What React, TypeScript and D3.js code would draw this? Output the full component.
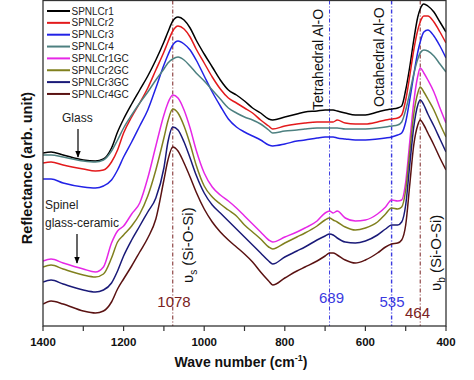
import React from "react";
import * as d3 from "d3";

const wavenumbers = [1400,1380,1350,1300,1270,1250,1230,1215,1200,1180,1160,1140,1120,1100,1090,1078,1065,1050,1035,1020,1000,980,960,940,920,900,880,860,840,830,800,770,750,720,700,689,680,670,650,625,600,570,550,535,520,510,500,490,480,470,464,455,445,430,415,400];

const spnlcr1 = [173,174,171,166,165,167,178,194,207,222,236,250,266,284,294,305,309,306,298,286,272,259,246,236,231,225,218,213,207,206,209,212,214,215,216,216,216,215,213,211,211,214,216,217,218,220,236,259,286,309,317,322,320,314,304,294];
const spnlcr2 = [163,164,161,157,155,156,164,176,193,209,223,238,256,274,284,295,300,297,289,277,263,249,237,228,223,218,213,206,200,197,200,202,203,204,204,204,204,206,203,202,202,204,206,207,208,211,226,250,276,296,304,310,310,304,294,283];
const spnlcr3 = [147,147,143,139,138,140,146,156,169,184,200,216,238,261,271,281,285,282,276,266,250,234,220,207,199,194,190,186,181,180,182,185,186,188,189,189,189,188,187,186,186,187,188,189,191,193,204,226,251,274,284,294,296,290,280,268];
const spnlcr4 = [171,171,169,165,164,166,175,186,198,211,223,234,246,257,263,267,269,266,260,253,245,236,227,218,213,209,206,202,196,193,195,196,197,198,198,198,198,198,197,197,197,198,199,200,201,204,216,233,252,267,273,276,275,270,262,254];
const spnlcr1gc = [65,67,63,57,54,59,83,95,100,112,123,148,180,211,223,231,228,216,198,176,153,139,131,125,118,110,102,94,86,84,89,94,98,105,113,115,113,115,108,105,106,112,119,126,125,126,144,184,224,250,258,253,246,234,218,203];
const spnlcr2gc = [59,61,57,51,49,52,68,84,91,100,112,130,156,188,205,217,213,200,182,161,140,129,122,116,110,101,94,87,79,77,83,89,93,100,106,108,106,104,99,96,98,104,112,118,117,119,136,174,212,233,239,234,227,216,202,189];
const spnlcr3gc = [44,46,42,36,34,36,43,55,70,86,100,114,128,158,184,199,196,184,168,151,133,121,113,105,97,89,81,73,65,62,69,75,79,86,90,92,91,88,84,83,85,91,97,101,101,104,121,161,199,221,226,221,212,200,187,174];
const spnlcr4gc = [22,25,22,15,13,15,24,37,47,60,74,88,107,146,166,179,175,163,149,134,117,104,94,86,79,72,64,54,45,41,48,55,59,65,70,73,73,71,66,63,66,73,79,82,83,86,101,141,181,201,206,201,193,181,168,156];

const seriesNames = ["SPNLCr1","SPNLCr2","SPNLCr3","SPNLCr4","SPNLCr1GC","SPNLCr2GC","SPNLCr3GC","SPNLCr4GC"];
const seriesValues = [spnlcr1,spnlcr2,spnlcr3,spnlcr4,spnlcr1gc,spnlcr2gc,spnlcr3gc,spnlcr4gc];
const seriesColors = ["#000000","#e31a1c","#2222e6","#4d8080","#e628e6","#80801e","#1a1a78","#5a1212"];

const xTickLabels = [1400,1200,1000,800,600,400];
const xMinorTicks = [1400,1300,1200,1100,1000,900,800,700,600,500,400];

const markerPositions = [1078, 689, 535, 464];
const markerLabels = ["1078", "689", "535", "464"];
const markerColors = ["#7a2222", "#3a3ae0", "#3a3ae0", "#7a2222"];

const FONT = "'Liberation Sans', Arial, Helvetica, sans-serif";

export default function App() {
  const W = 474, H = 380;
  const left = 43, right = 446, top = 0.5, bottom = 326;
  const x = d3.scaleLinear().domain([1400, 400]).range([left, right]);
  const y = d3.scaleLinear().domain([0, 326]).range([326, 0]);
  const line = d3.line<[number, number]>()
    .x(d => x(d[0]))
    .y(d => y(d[1]))
    .curve(d3.curveMonotoneX);

  const legendY = (i: number) => 11 + i * 11.85;
  const markerLabelY = [307, 303, 307, 318];
  const markerLabelX = [174, 331.5, 392, 417.5];

  return (
    <svg width={W} height={H} style={{ position: "absolute", left: 0, top: 0, background: "#fff" }} fontFamily={FONT}>
      <defs>
        <marker id="arr" viewBox="0 0 10 10" refX="9" refY="5" markerWidth="6" markerHeight="7" orient="auto">
          <path d="M0,1 L10,5 L0,9 Z" fill="#000" />
        </marker>
        <clipPath id="plotclip">
          <rect x={left} y={top} width={right - left} height={bottom - top} />
        </clipPath>
      </defs>

      {markerPositions.map((m, i) => (
        <line key={"m" + i} x1={x(m)} x2={x(m)} y1={top} y2={bottom}
          stroke={markerColors[i]} strokeWidth={i === 2 ? 1.4 : 1}
          strokeDasharray="4,2,1,2" />
      ))}

      <g clipPath="url(#plotclip)">
        {seriesValues.map((vals, i) => (
          <path key={seriesNames[i]}
            d={line(wavenumbers.map((w, j) => [w, vals[j]] as [number, number])) || ""}
            fill="none" stroke={seriesColors[i]} strokeWidth={1.5} />
        ))}
      </g>

      <rect x={left} y={top} width={right - left} height={bottom - top} fill="none" stroke="#333" strokeWidth={1.3} />

      {xMinorTicks.map(t => (
        <line key={"t" + t} x1={x(t)} x2={x(t)} y1={bottom} y2={bottom + 5} stroke="#333" strokeWidth={1.2} />
      ))}
      {xTickLabels.map(t => (
        <text key={"l" + t} x={x(t)} y={346} textAnchor="middle" fontSize={11.5} fontWeight="bold" fill="#111">{t}</text>
      ))}

      <text x={241} y={367} textAnchor="middle" fontSize={14} fontWeight="bold" fill="#111">
        Wave number (cm<tspan fontSize={9} dy={-6}>-1</tspan><tspan dy={6}>)</tspan>
      </text>
      <text transform="translate(32,168) rotate(-90)" textAnchor="middle" fontSize={14.5} fontWeight="bold" fill="#111">
        Reflectance (arb. unit)
      </text>

      {seriesNames.map((n, i) => (
        <g key={"lg" + n}>
          <line x1={47} x2={70} y1={legendY(i)} y2={legendY(i)} stroke={seriesColors[i]} strokeWidth={2} />
          <text x={71.5} y={legendY(i) + 3.6} fontSize={10} fill="#222">{n}</text>
        </g>
      ))}

      <text x={62} y={122} fontSize={12} fill="#222">Glass</text>
      <line x1={78} x2={78} y1={129} y2={157} stroke="#000" strokeWidth={1.2} markerEnd="url(#arr)" />
      <text x={45} y={209} fontSize={12} fill="#222">Spinel</text>
      <text x={45} y={227} fontSize={12} fill="#222">glass-ceramic</text>
      <line x1={77} x2={77} y1={234} y2={263} stroke="#000" strokeWidth={1.2} markerEnd="url(#arr)" />

      <text transform="translate(193,283) rotate(-90)" textAnchor="start" fontSize={15} fill="#111">
        υ<tspan fontSize={10} dy={4}>s</tspan><tspan dy={-4}> (Si-O-Si)</tspan>
      </text>
      <text transform="translate(441,291) rotate(-90)" textAnchor="start" fontSize={15} fill="#111">
        υ<tspan fontSize={10} dy={4}>b</tspan><tspan dy={-4}> (Si-O-Si)</tspan>
      </text>
      <text transform="translate(323,110) rotate(-90)" textAnchor="start" fontSize={14} fill="#111">Tetrahedral Al-O</text>
      <text transform="translate(384,107) rotate(-90)" textAnchor="start" fontSize={14} fill="#111">Octahedral Al-O</text>

      {markerLabels.map((l, i) => (
        <text key={"ml" + i} x={markerLabelX[i]} y={markerLabelY[i]} textAnchor="middle" fontSize={15} fill={markerColors[i]}>{l}</text>
      ))}
    </svg>
  );
}
